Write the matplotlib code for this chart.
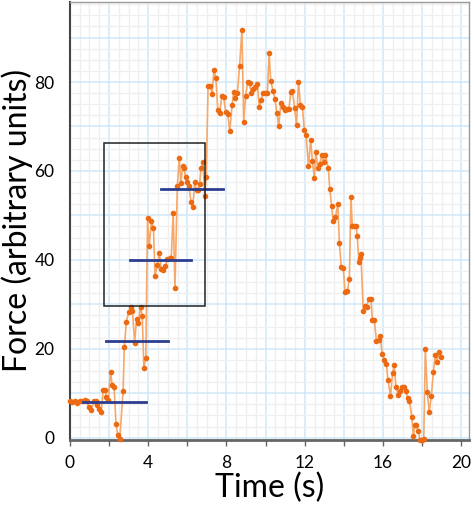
import numpy as np
import matplotlib
matplotlib.use("Agg")
import matplotlib.pyplot as plt
from matplotlib.ticker import MultipleLocator, FuncFormatter
from matplotlib.patches import Rectangle

# force trace (time in s, force in arbitrary units)
time_s = [
    0.0, 0.12, 0.25, 0.37, 0.5, 0.62, 0.76, 0.87, 0.96, 1.1,
    1.22, 1.32, 1.4, 1.48, 1.6, 1.7, 1.79, 1.87, 1.96, 2.08,
    2.16, 2.26, 2.36, 2.45, 2.55, 2.72, 2.78, 2.89, 3.0, 3.1,
    3.2, 3.31, 3.41, 3.49, 3.61, 3.7, 3.78, 3.88, 3.97, 4.05,
    4.17, 4.27, 4.35, 4.47, 4.57, 4.67, 4.78, 4.88, 4.98, 5.1,
    5.18, 5.28, 5.37, 5.49, 5.59, 5.67, 5.76, 5.82, 5.91, 6.01,
    6.09, 6.19, 6.28, 6.38, 6.47, 6.57, 6.63, 6.7, 6.8, 6.89,
    6.97, 7.06, 7.16, 7.27, 7.36, 7.46, 7.56, 7.66, 7.76, 7.86,
    7.96, 8.07, 8.17, 8.29, 8.37, 8.46, 8.56, 8.67, 8.79, 8.88,
    8.98, 9.08, 9.18, 9.27, 9.37, 9.48, 9.58, 9.68, 9.77, 9.87,
    9.97, 10.09, 10.18, 10.26, 10.38, 10.48, 10.58, 10.67, 10.78, 10.89,
    10.99, 11.09, 11.19, 11.29, 11.37, 11.48, 11.58, 11.68, 11.78, 11.88,
    11.98, 12.07, 12.19, 12.3, 12.39, 12.49, 12.57, 12.66, 12.76, 12.88,
    12.98, 13.06, 13.2, 13.28, 13.37, 13.45, 13.57, 13.69, 13.77, 13.87,
    13.97, 14.06, 14.18, 14.28, 14.36, 14.43, 14.53, 14.63, 14.68, 14.77,
    14.82, 14.87, 14.99, 15.09, 15.17, 15.26, 15.38, 15.46, 15.56, 15.66,
    15.78, 15.86, 15.95, 16.07, 16.17, 16.25, 16.38, 16.49, 16.57, 16.66,
    16.78, 16.88, 16.98, 17.08, 17.16, 17.27, 17.35, 17.47, 17.55, 17.62,
    17.7, 17.81, 17.89, 17.97, 18.08, 18.16, 18.26, 18.36, 18.47, 18.57,
    18.67, 18.75, 18.87, 18.97,
]
force = [
    8.2, 8.0, 8.2, 7.8, 8.3, 8.2, 8.4, 8.3, 7.0, 6.3,
    8.3, 8.3, 7.4, 6.5, 5.7, 10.8, 10.8, 9.1, 8.4, 14.7,
    11.9, 11.4, 3.0, 0.5, -0.3, 10.5, 20.3, 26.1, 28.2, 29.5,
    28.4, 21.4, 26.8, 25.9, 29.5, 27.3, 15.6, 17.9, 49.4, 43.0,
    48.8, 47.1, 36.4, 38.9, 41.5, 37.9, 37.8, 38.5, 40.2, 40.5,
    40.5, 50.6, 33.6, 56.7, 63.0, 57.2, 61.1, 60.6, 58.7, 57.4,
    56.5, 52.9, 51.8, 57.6, 55.6, 55.7, 57.1, 60.6, 61.9, 54.4,
    58.7, 79.1, 79.1, 77.4, 82.8, 81.0, 73.6, 73.0, 76.9, 76.6,
    73.3, 72.7, 69.0, 74.8, 77.8, 76.3, 77.6, 83.6, 91.7, 71.1,
    76.9, 80.0, 79.7, 77.5, 78.4, 78.9, 79.5, 74.3, 76.0, 77.6,
    77.6, 77.6, 86.6, 80.3, 78.0, 76.1, 73.0, 70.0, 75.3, 74.3,
    73.6, 73.9, 73.9, 77.8, 78.0, 74.1, 70.3, 80.0, 74.8, 74.3,
    69.2, 68.1, 61.0, 67.0, 62.3, 58.5, 64.3, 60.6, 61.5, 63.6,
    62.0, 63.6, 60.6, 56.0, 52.2, 48.8, 49.6, 52.5, 43.8, 38.3,
    38.1, 32.7, 33.0, 35.7, 54.2, 47.5, 47.5, 47.5, 45.4, 39.5,
    40.4, 41.3, 28.4, 29.7, 29.4, 31.3, 31.2, 26.4, 26.4, 21.8,
    21.9, 22.8, 18.9, 17.5, 16.6, 13.0, 9.4, 14.5, 16.4, 11.4,
    9.5, 10.4, 11.4, 11.4, 10.4, 8.9, 8.3, 4.6, 0.3, 2.8,
    2.8, 1.4, -0.6, -0.5, -0.3, 19.9, 10.3, 5.7, 9.4, 14.8,
    18.6, 17.1, 19.2, 18.1,
]

# plateau levels (blue bars): start, end, level
step_start = [0.66, 1.87, 3.05, 4.66]
step_end = [3.9, 5.0, 6.2, 7.8]
step_level = [8.1, 21.8, 40.0, 56.0]

# zoom box: x0, y0, x1, y1
box = [1.72, 29.7, 6.9, 66.3]

plt.rcParams['font.family'] = ['Lato', 'DejaVu Sans']

fig = plt.figure(figsize=(4.72, 5.05), dpi=100)
ax = fig.add_axes([0.148, 0.129, 0.846, 0.867])

ax.xaxis.set_major_locator(MultipleLocator(2))
ax.xaxis.set_minor_locator(MultipleLocator(0.5))
ax.yaxis.set_major_locator(MultipleLocator(10))
ax.yaxis.set_minor_locator(MultipleLocator(2.5))
ax.xaxis.set_major_formatter(FuncFormatter(lambda v, p: "%d" % v if round(v) % 4 == 0 else ""))
ax.yaxis.set_major_formatter(FuncFormatter(lambda v, p: "%d" % v if round(v) % 20 == 0 else ""))
ax.grid(which='minor', color='#efefef', lw=0.9)
ax.grid(which='major', color='#cfe8f7', lw=1.1)
ax.set_axisbelow(True)

ax.plot(time_s, force, color='#f6a86a', lw=1.2, zorder=3)
ax.plot(time_s, force, ls='none', marker='o', ms=3.0, color='#ec6a12', zorder=4, clip_on=False)

for s, e, lv in zip(step_start, step_end, step_level):
    ax.plot([s, e], [lv, lv], color='#2b3e90', lw=2.0, zorder=5)

ax.add_patch(Rectangle((box[0], box[1]), box[2] - box[0], box[3] - box[1],
                       fill=False, ec='#222222', lw=1.1, zorder=6))

ax.set_xlim(0, 20.4)
ax.set_ylim(-0.5, 98)

for side in ['top', 'right']:
    ax.spines[side].set_color('#9a9a9a')
    ax.spines[side].set_linewidth(1.0)
ax.spines['left'].set_color('#444444')
ax.spines['left'].set_linewidth(1.5)
ax.spines['bottom'].set_color('#666666')
ax.spines['bottom'].set_linewidth(2.0)

ax.tick_params(axis='x', which='major', length=4, width=1, color='#666666', labelsize=12.5, pad=7)
ax.tick_params(axis='y', which='major', length=0, labelsize=12.5, pad=11)
ax.tick_params(which='minor', length=0)

ax.set_xlabel("Time (s)", fontsize=23, labelpad=1)
ax.set_ylabel("Force (arbitrary units)", fontsize=23, labelpad=1)

fig.savefig("out.png", dpi=100)
